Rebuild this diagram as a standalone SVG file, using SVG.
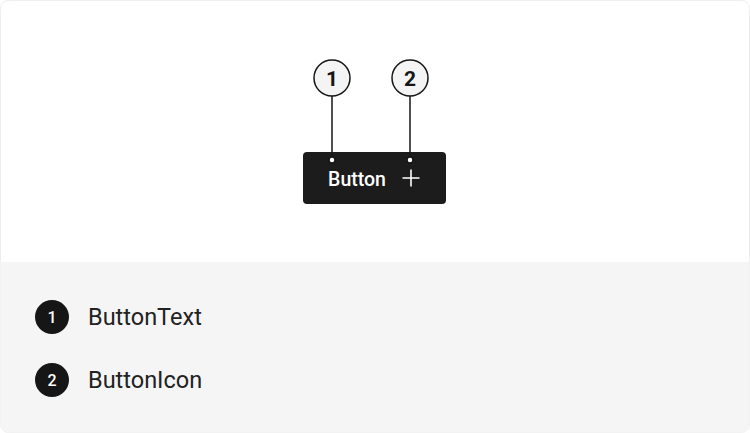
<svg xmlns="http://www.w3.org/2000/svg" width="750" height="433" viewBox="0 0 750 433">
<style>
.callout{fill:#f4f4f4;stroke:#161616;stroke-width:1.5}
.callnum{font-family:Roboto,"Liberation Sans",sans-serif;font-weight:700;font-size:21px;fill:#161616;text-anchor:middle}
.lead{stroke:#161616;stroke-width:1.5;fill:none}
.dot{fill:#ffffff;stroke:#161616;stroke-width:1.5}
.badge{fill:#161616}
.badgenum{font-family:Roboto,"Liberation Sans",sans-serif;font-size:16px;font-weight:500;fill:#ffffff;text-anchor:middle}
.label{font-family:Roboto,"Liberation Sans",sans-serif;font-size:23.5px;fill:#222222}
</style>
<rect x="0.5" y="0.5" width="749" height="432" rx="8" fill="#ffffff" stroke="#eeeeee"/>
<path d="M0.5 262 H749.5 V424.5 A8 8 0 0 1 741.5 432.5 H8.5 A8 8 0 0 1 0.5 424.5 Z" fill="#f5f5f5"/>
<g id="button">
<rect x="303" y="152" width="143" height="52" rx="4" fill="#1c1c1c"/>
<text x="357" y="186" font-family="Roboto,'Liberation Sans',sans-serif" font-size="19.5" font-weight="500" fill="#ffffff" text-anchor="middle">Button</text>
<path d="M402.5 178 H419.5 M411 169.5 V186.5" stroke="#ffffff" stroke-width="1.6"/>
</g>
<g id="connectors">
<line class="lead" x1="332" y1="96" x2="332" y2="159"/>
<line class="lead" x1="410" y1="96" x2="410" y2="159"/>
<circle class="dot" cx="332" cy="160" r="3"/>
<circle class="dot" cx="410" cy="160" r="3"/>
</g>
<g id="callout1">
<circle class="callout" cx="332" cy="78" r="18"/>
<text class="callnum" x="332" y="85.5">1</text>
</g>
<g id="callout2">
<circle class="callout" cx="410" cy="78" r="18"/>
<text class="callnum" x="410" y="85.5">2</text>
</g>
<g id="legend1">
<circle class="badge" cx="52" cy="317" r="17"/>
<text class="badgenum" x="52" y="322.5">1</text>
<text class="label" x="88" y="325">ButtonText</text>
</g>
<g id="legend2">
<circle class="badge" cx="52" cy="380" r="17"/>
<text class="badgenum" x="52" y="385.5">2</text>
<text class="label" x="88" y="388">ButtonIcon</text>
</g>
</svg>
